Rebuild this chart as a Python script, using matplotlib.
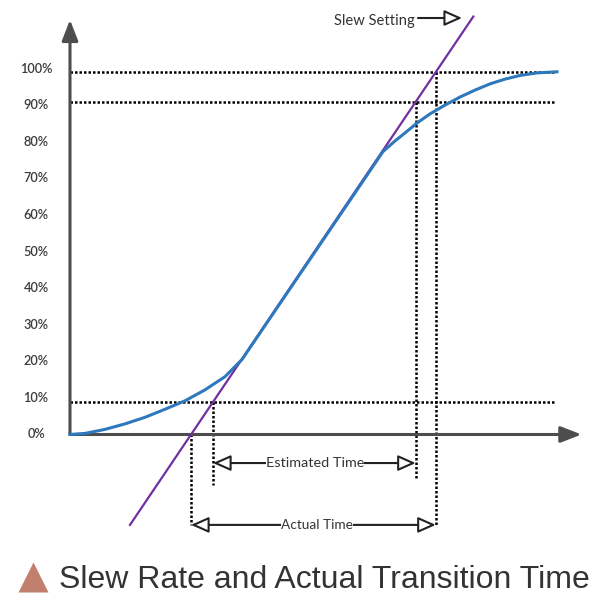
import matplotlib.pyplot as plt

# response curve (blue): time units vs output level in %
curve_t = [0, 3, 7, 11, 15, 19, 23, 27, 31, 34.4, 62.6,
           65, 67, 69.4, 72, 75, 78, 81, 84, 87, 90, 93.4, 97.4]
curve_v = [0, 0.3, 1.4, 2.9, 4.7, 6.9, 9.2, 12.2, 15.8, 20.5, 77.3,
           80.2, 82.4, 85.1, 87.6, 90.0, 92.2, 94.1, 95.8, 97.1, 98.1, 98.8, 99.1]

# slew setting line (purple), end points
slew_t = [12, 80.66]
slew_v = [-24.7, 114.2]

# dotted reference levels (as drawn)
lvl_low = 8.9
lvl_high = 90.9
lvl_top = 99.0
lvl_zero = 0.0

tick_vals = [0, 10, 20, 30, 40, 50, 60, 70, 80, 90, 100]
tick_text = ['%d%%' % v for v in tick_vals]


def slew_x(level):
    k = (slew_v[1] - slew_v[0]) / (slew_t[1] - slew_t[0])
    return slew_t[0] + (level - slew_v[0]) / k


fig = plt.figure(figsize=(5.99, 6.03), dpi=100)
ax = fig.add_axes([0, 0, 1, 1])
ax.set_xlim(-14, 105.8)
ax.set_ylim(-46.04, 118.72)
ax.axis('off')

axis_col = '#4d4d4d'
dot = (0, (1, 0.8))
dlw = 1.8

# axes with arrow heads
ax.annotate('', xy=(102.3, 0), xytext=(0, 0),
            arrowprops=dict(arrowstyle='-|>,head_length=0.9,head_width=0.35',
                            mutation_scale=14, lw=2.2, color=axis_col,
                            shrinkA=0, shrinkB=0))
ax.annotate('', xy=(0, 113.3), xytext=(0, 0),
            arrowprops=dict(arrowstyle='-|>,head_length=0.9,head_width=0.35',
                            mutation_scale=14, lw=2.2, color=axis_col,
                            shrinkA=0, shrinkB=0))

for v, s in zip(tick_vals, tick_text):
    ax.text(-6.8, v, s, ha='center', va='center', fontsize=9.2,
            family='Lato', color='#3a3a3a', fontweight='semibold')

# horizontal dotted levels
for lv in [lvl_low, lvl_high, lvl_top]:
    ax.plot([0, 97], [lv, lv], color='black', lw=dlw, ls=dot, zorder=2)

# vertical dotted drops
x_est0 = slew_x(lvl_low)
x_est1 = slew_x(lvl_high)
x_act0 = slew_x(lvl_zero)
x_act1 = slew_x(lvl_top)
y_est = -7.8
y_act = -24.7
ax.plot([x_est0, x_est0], [lvl_low, -13.8], color='black', lw=dlw, ls=dot)
ax.plot([x_est1, x_est1], [lvl_high, -12.4], color='black', lw=dlw, ls=dot)
ax.plot([x_act0, x_act0], [lvl_zero, y_act], color='black', lw=dlw, ls=dot)
ax.plot([x_act1, x_act1], [lvl_top, y_act], color='black', lw=dlw, ls=dot)

# curves
ax.plot(slew_t, slew_v, color='#7030a0', lw=1.6, zorder=3)
ax.plot(curve_t, curve_v, color='#2e78bd', lw=2.2, zorder=4,
        solid_joinstyle='round')

# time arrows
arr = dict(arrowstyle='<|-|>,head_length=0.9,head_width=0.4',
           mutation_scale=12, lw=1.5, fc='white', ec='#222222',
           shrinkA=0, shrinkB=0)
ax.annotate('', xy=(x_est1, y_est), xytext=(x_est0, y_est), arrowprops=arr)
ax.annotate('', xy=(x_act1, y_act), xytext=(x_act0, y_act), arrowprops=arr)
lab = dict(ha='center', va='center', family='Lato',
           color='#333333', bbox=dict(fc='white', ec='none', pad=0.2))
ax.text(49, y_est, 'Estimated Time', fontsize=10.4, **lab)
ax.text(49.4, y_act, 'Actual Time', fontsize=9.8, **lab)

# slew setting label
ax.text(69.0, 113.1, 'Slew Setting', ha='right', va='center', fontsize=10.6,
        family='Lato', color='#333333')
ax.annotate('', xy=(78.4, 113.8), xytext=(69.6, 113.8),
            arrowprops=dict(arrowstyle='-|>,head_length=0.9,head_width=0.4',
                            mutation_scale=12, lw=1.5, fc='white', ec='#222222',
                            shrinkA=0, shrinkB=0))

# caption
ax.plot([-7.4], [-38.9], marker='^', ms=22, color='#c17f6e', mec='none',
        clip_on=False)
ax.text(-2.2, -41.9, 'Slew Rate and Actual Transition Time', ha='left',
        va='baseline', fontsize=23, family='Liberation Sans', color='#333333')

fig.savefig('out.png', dpi=100)
